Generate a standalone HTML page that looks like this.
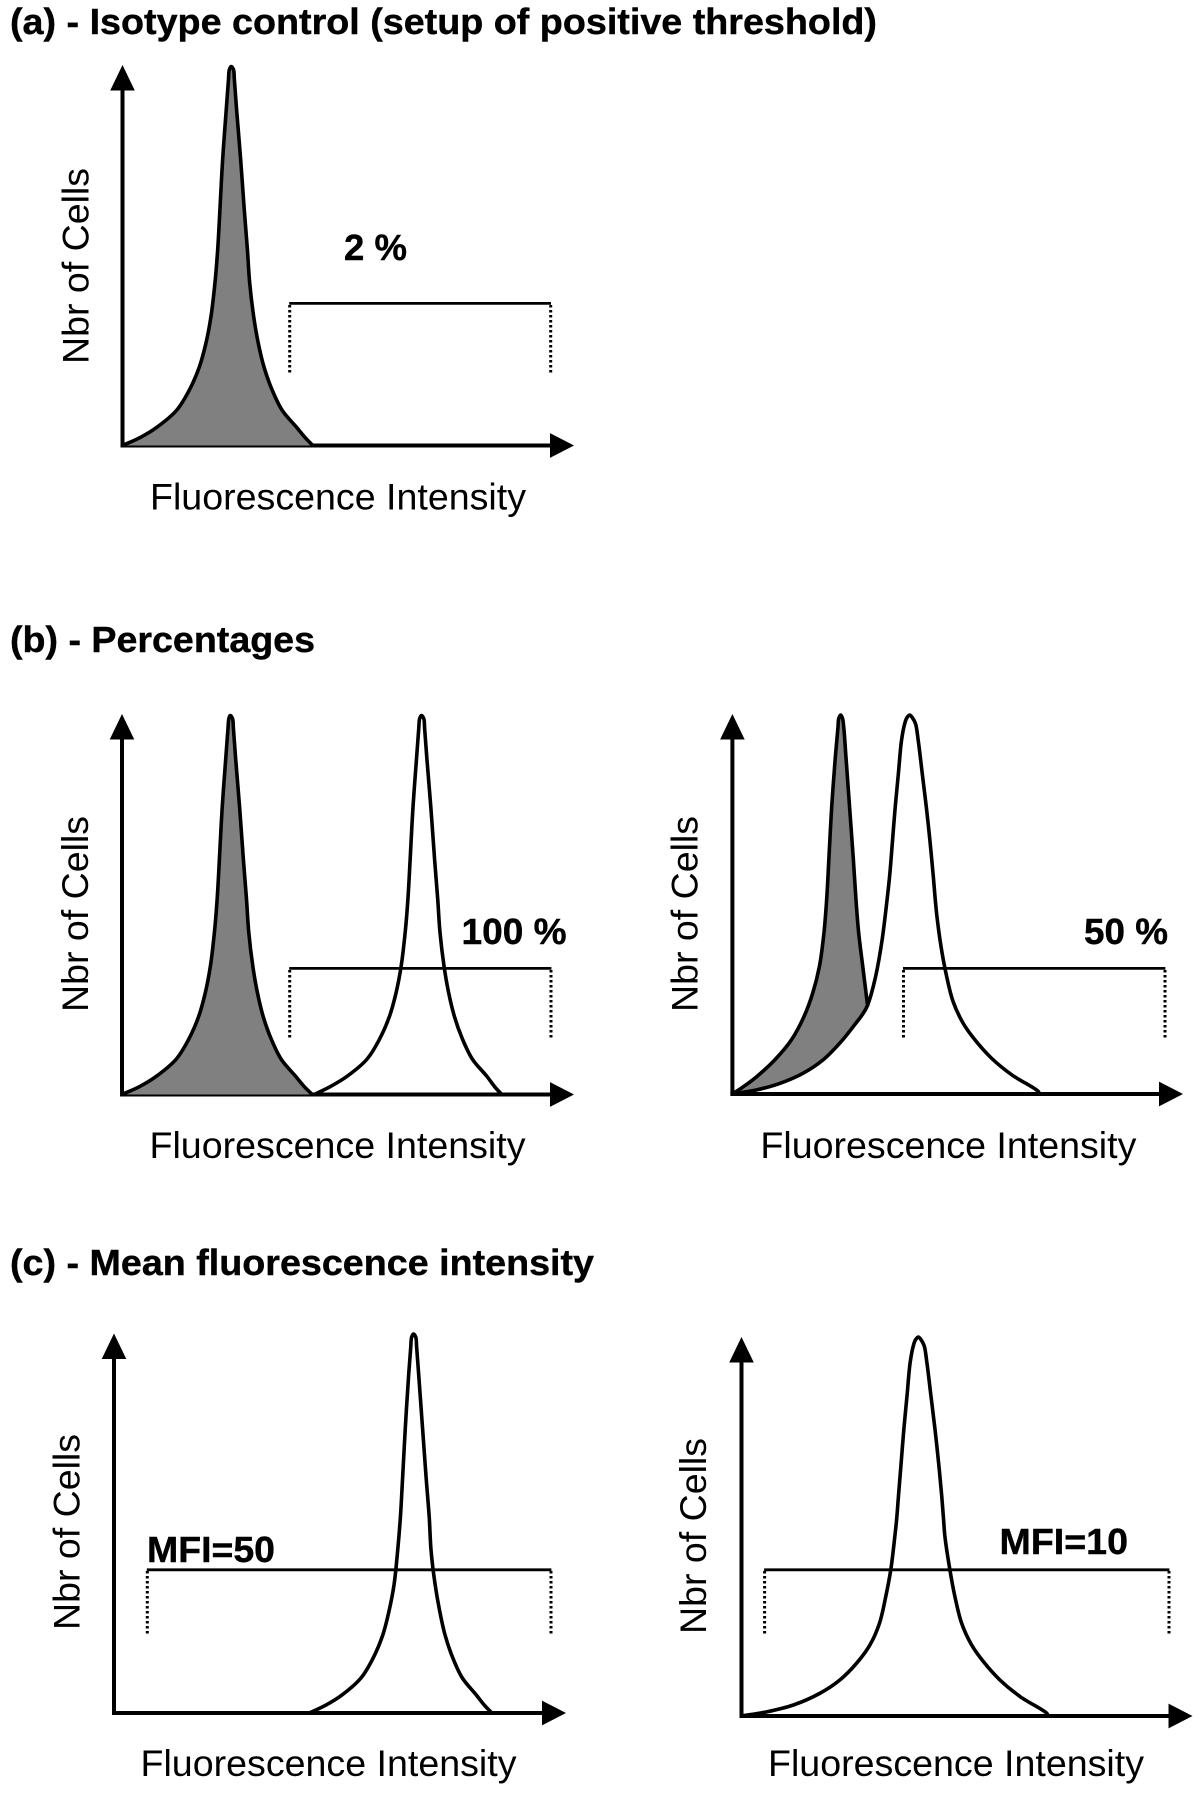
<!DOCTYPE html>
<html lang="en">
<head>
<meta charset="utf-8">
<title>Flow cytometry schematic</title>
<style>
html,body{margin:0;padding:0;background:#fff;width:1200px;height:1795px;overflow:hidden}
svg{display:block}
text{font-family:"Liberation Sans",Arial,sans-serif;fill:#000}
.t{font-weight:bold;font-size:36px;stroke:#000;stroke-width:.4px}
.v{font-weight:bold;font-size:36px;stroke:#000;stroke-width:.4px}
.l{font-size:37.5px}
.axis{stroke:#000;stroke-width:4;fill:none}
.gate{stroke:#000;stroke-width:2.8;fill:none}
.dot{stroke:#000;stroke-width:3;stroke-dasharray:2.5 2.5;fill:none}
</style>
</head>
<body>
<svg id="chart" xmlns="http://www.w3.org/2000/svg" width="1200" height="1795" viewBox="0 0 1200 1795">
  <rect width="1200" height="1795" fill="#fff"/>

  <text class="t" x="10" y="34" textLength="867" lengthAdjust="spacingAndGlyphs">(a) - Isotype control (setup of positive threshold)</text>
  <text class="t" x="10" y="652" textLength="305" lengthAdjust="spacingAndGlyphs">(b) - Percentages</text>
  <text class="t" x="10" y="1275" textLength="584" lengthAdjust="spacingAndGlyphs">(c) - Mean fluorescence intensity</text>

  <!-- Panel A -->
  <g>
    <line class="axis" x1="122.5" y1="447.5" x2="122.5" y2="85"/>
    <polygon points="122.5,65 110.2,90.5 134.8,90.5"/>
    <line class="axis" x1="120.5" y1="445.5" x2="555" y2="445.5"/>
    <polygon points="574,445.5 550,433.1 550,457.9"/>
  </g>
  <g id="panel-a-curves"></g>
  <g>
    <line class="gate" x1="289.2" y1="303.4" x2="551" y2="303.4"/>
    <line class="dot" x1="289.7" y1="305" x2="289.7" y2="374"/>
    <line class="dot" x1="550.7" y1="305" x2="550.7" y2="374"/>
  </g>
  <text class="v" x="344" y="260" textLength="63" lengthAdjust="spacingAndGlyphs">2 %</text>
  <text class="l" x="150" y="509.5" textLength="376" lengthAdjust="spacingAndGlyphs">Fluorescence Intensity</text>
  <text class="l" transform="translate(88.3,364) rotate(-90)" textLength="196" lengthAdjust="spacingAndGlyphs">Nbr of Cells</text>

  <!-- Panel B left -->
  <g>
    <line class="axis" x1="122" y1="1096.5" x2="122" y2="735"/>
    <polygon points="122,714 109.7,739.5 134.3,739.5"/>
    <line class="axis" x1="120" y1="1094.5" x2="555" y2="1094.5"/>
    <polygon points="574,1094.5 550,1082.1 550,1106.9"/>
  </g>
  <g id="panel-b1-curves"></g>
  <g>
    <line class="gate" x1="289.2" y1="968.4" x2="551.4" y2="968.4"/>
    <line class="dot" x1="289.7" y1="970" x2="289.7" y2="1040"/>
    <line class="dot" x1="551" y1="970" x2="551" y2="1040"/>
  </g>
  <text class="v" x="461.5" y="944" textLength="105" lengthAdjust="spacingAndGlyphs">100 %</text>
  <text class="l" x="149.5" y="1158" textLength="376" lengthAdjust="spacingAndGlyphs">Fluorescence Intensity</text>
  <text class="l" transform="translate(87.8,1012) rotate(-90)" textLength="196" lengthAdjust="spacingAndGlyphs">Nbr of Cells</text>

  <!-- Panel B right -->
  <g>
    <line class="axis" x1="732.4" y1="1096" x2="732.4" y2="735"/>
    <polygon points="732.4,714 720.1,739.5 744.7,739.5"/>
    <line class="axis" x1="730.4" y1="1094" x2="1165" y2="1094"/>
    <polygon points="1183,1094 1159,1081.6 1159,1106.4"/>
  </g>
  <g id="panel-b2-curves"></g>
  <g>
    <line class="gate" x1="903" y1="968.4" x2="1165.4" y2="968.4"/>
    <line class="dot" x1="903.5" y1="970" x2="903.5" y2="1040"/>
    <line class="dot" x1="1165" y1="970" x2="1165" y2="1040"/>
  </g>
  <text class="v" x="1084" y="944" textLength="84" lengthAdjust="spacingAndGlyphs">50 %</text>
  <text class="l" x="760.4" y="1158" textLength="376" lengthAdjust="spacingAndGlyphs">Fluorescence Intensity</text>
  <text class="l" transform="translate(697.4,1012) rotate(-90)" textLength="196" lengthAdjust="spacingAndGlyphs">Nbr of Cells</text>

  <!-- Panel C left -->
  <g>
    <line class="axis" x1="114" y1="1715" x2="114" y2="1355"/>
    <polygon points="114,1333.5 101.7,1359 126.3,1359"/>
    <line class="axis" x1="112" y1="1713" x2="546" y2="1713"/>
    <polygon points="566,1713 542,1700.6 542,1725.4"/>
  </g>
  <g id="panel-c1-curves"></g>
  <g>
    <line class="gate" x1="146.8" y1="1569.8" x2="551.4" y2="1569.8"/>
    <line class="dot" x1="147.3" y1="1571" x2="147.3" y2="1635"/>
    <line class="dot" x1="551" y1="1571" x2="551" y2="1635"/>
  </g>
  <text class="v" x="147" y="1562" textLength="128" lengthAdjust="spacingAndGlyphs">MFI=50</text>
  <text class="l" x="140.5" y="1776" textLength="376" lengthAdjust="spacingAndGlyphs">Fluorescence Intensity</text>
  <text class="l" transform="translate(79.4,1630) rotate(-90)" textLength="196" lengthAdjust="spacingAndGlyphs">Nbr of Cells</text>

  <!-- Panel C right -->
  <g>
    <line class="axis" x1="741.5" y1="1718" x2="741.5" y2="1358"/>
    <polygon points="741.5,1337 729.2,1362.5 753.8,1362.5"/>
    <line class="axis" x1="739.5" y1="1716" x2="1174" y2="1716"/>
    <polygon points="1192.5,1716 1168.5,1703.6 1168.5,1728.4"/>
  </g>
  <g id="panel-c2-curves"></g>
  <g>
    <line class="gate" x1="764.1" y1="1569.8" x2="1169.4" y2="1569.8"/>
    <line class="dot" x1="764.6" y1="1571" x2="764.6" y2="1635"/>
    <line class="dot" x1="1169" y1="1571" x2="1169" y2="1635"/>
  </g>
  <text class="v" x="999.5" y="1554" textLength="128.5" lengthAdjust="spacingAndGlyphs">MFI=10</text>
  <text class="l" x="768" y="1776" textLength="376" lengthAdjust="spacingAndGlyphs">Fluorescence Intensity</text>
  <text class="l" transform="translate(706,1634) rotate(-90)" textLength="196" lengthAdjust="spacingAndGlyphs">Nbr of Cells</text>
</svg>

<script>
// Intensity (0-100 of axis length) and cell count (0-100 of peak)
const isotypeIntensity = [0,3.9,7.6,12,14.8,17,18.5,19.6,20.5,21.1,21.6,22.2,23,23.5,23.7,24.1,24.6,24.8,25.3,26.2,27,27.7,28.2,29.1,30.1,31.4,33.2,35.4,38.6,40.5,42.2];
const isotypeCount = [0,2.1,4.8,9.3,14.6,20.6,27,33.9,42.9,51.6,62.2,75.4,88.6,96.6,99.2,100,99.2,96.6,88.6,75.4,62.2,51.6,42.9,33.9,27,20.6,14.6,9.3,4.8,2.1,0];

const controlLeftIntensity = [0,3.9,7.6,12,14.8,17,18.5,19.6,20.5,21.1,21.6,22.2,23,23.5,23.7,24,24.5,24.7,25.2,26.1,26.9,27.6,28.1,29,30,31.3,33.1,35.3,38.5,40.4,42.2];
const controlLeftCount = [0,2.1,4.8,9.3,14.6,20.6,27,33.9,42.9,51.6,62.2,75.4,88.6,96.6,99.2,100,99.2,96.6,88.6,75.4,62.2,51.6,42.9,33.9,27,20.6,14.6,9.3,4.8,2.1,0];
const sampleLeftIntensity = [42.6,46.2,49.9,54.3,57.1,59.3,60.8,61.9,62.8,63.4,63.9,64.5,65.3,65.8,66,66.4,66.9,67.1,67.6,68.5,69.3,70,70.5,71.4,72.4,73.7,75.5,77.7,80.9,82.6,84.2];
const sampleLeftCount = [0,2.1,4.8,9.3,14.6,20.6,27,33.9,42.9,51.6,62.2,75.4,88.6,96.6,99.2,100,99.2,96.6,88.6,75.4,62.2,51.6,42.9,33.9,27,20.6,14.6,9.3,4.8,2.1,0];

const controlRightIntensity = [0,2.4,5.4,9.4,13.1,15.9,17.8,19.3,20.3,20.9,21.4,22,22.8,23.4,23.6,24,24.4,24.7,25.2,26,26.8,27.4,28,28.9,30];
const controlRightCount = [0,1.9,4.6,9,14.3,20.5,26.6,33.7,42.5,51.3,62.2,75.4,88.6,96.6,99.2,100,99.2,96.6,88.6,75.4,62.2,51.3,42.5,33.7,23.1];
const sampleRightIntensity = [0,5.4,10.5,15.7,20.1,23.8,26.8,29.7,31.6,33.1,34.3,34.9,35.5,36.1,36.8,37.5,38.2,38.7,39.3,39.9,40.6,41.2,42.1,43,43.8,44.5,45.3,46.3,47.4,48.9,51.1,53.7,57.4,61.9,67.8,68.1];
const sampleRightCount = [0,1.1,2.8,5.5,9,13.4,17.8,22.7,30.2,39.9,51.3,58,66.8,75.7,84.5,93.3,97.7,99.3,100,99.3,97.7,93.3,84.5,75.7,66.8,58,47.4,38.6,31.6,24.5,18.8,14.4,9.5,5.1,0.7,0];

const mfi50Intensity = [43.3,47,50.6,54.8,57.5,59.6,61,62.1,62.9,63.5,64,64.6,65.3,65.8,66,66.4,66.9,67.1,67.6,68.4,69.2,69.9,70.3,71.2,72.2,73.4,75.1,77.2,80.3,82.1,83.8];
const mfi50Count = [0,2.1,4.8,9.3,14.6,20.6,27,33.9,42.9,51.6,62.2,75.4,88.6,96.6,99.2,100,99.2,96.6,88.6,75.4,62.2,51.6,42.9,33.9,27,20.6,14.6,9.3,4.8,2.1,0];

const mfi10Intensity = [0,5.6,11.5,17.4,21.8,25.5,28.5,30.6,32,33.1,34,34.4,34.8,35.4,36,36.7,37.4,38.1,38.6,39.2,39.8,40.5,41.1,42,42.9,43.7,44.4,44.8,45.1,46.2,47.3,48.8,51,53.6,57.3,61.8,67.7,68];
const mfi10Count = [0,1.1,2.9,6,9.5,13.9,18.8,24.5,31.6,38.6,47.4,51.9,58,66.8,75.7,84.5,93.3,97.7,99.3,100,99.3,97.7,93.3,84.5,75.7,66.8,58,51.9,47.4,38.6,31.6,24.5,18.8,14.4,9.5,5.1,0.7,0];

const SVG_NS = 'http://www.w3.org/2000/svg';
const PLOT_W = 4.51, PLOT_H = 3.79, LINE_W = 3.6;

function xAxis(originX, v) { return originX + v * PLOT_W; }
function yAxis(originY, v) { return originY - v * PLOT_H; }

function toPoints(originX, originY, xs, ys) {
  return xs.map(function (v, i) { return [xAxis(originX, v), yAxis(originY, ys[i])]; });
}

// Centripetal Catmull-Rom spline through the points, written as cubic Beziers
function knot(a, b) {
  return Math.max(Math.sqrt(Math.hypot(b[0] - a[0], b[1] - a[1])), 1e-3);
}
function tangent(a, b, c, dab, dbc, k) {
  return (b[k] - a[k]) / dab - (c[k] - a[k]) / (dab + dbc) + (c[k] - b[k]) / dbc;
}
function smoothPath(pts) {
  let d = 'M' + pts[0][0].toFixed(2) + ' ' + pts[0][1].toFixed(2);
  for (let i = 0; i < pts.length - 1; i++) {
    const p1 = pts[i], p2 = pts[i + 1];
    const d12 = knot(p1, p2);
    let m1 = [(p2[0] - p1[0]) / d12, (p2[1] - p1[1]) / d12];
    let m2 = [m1[0], m1[1]];
    if (i > 0) {
      const p0 = pts[i - 1], d01 = knot(p0, p1);
      m1 = [tangent(p0, p1, p2, d01, d12, 0), tangent(p0, p1, p2, d01, d12, 1)];
    }
    if (i + 2 < pts.length) {
      const p3 = pts[i + 2], d23 = knot(p2, p3);
      m2 = [tangent(p1, p2, p3, d12, d23, 0), tangent(p1, p2, p3, d12, d23, 1)];
    }
    const c1x = p1[0] + m1[0] * d12 / 3, c1y = p1[1] + m1[1] * d12 / 3;
    const c2x = p2[0] - m2[0] * d12 / 3, c2y = p2[1] - m2[1] * d12 / 3;
    d += 'C' + c1x.toFixed(2) + ' ' + c1y.toFixed(2) + ' ' + c2x.toFixed(2) + ' ' + c2y.toFixed(2) + ' ' + p2[0].toFixed(2) + ' ' + p2[1].toFixed(2);
  }
  return d;
}

function addPath(parentId, d, fill, strokeWidth) {
  const el = document.createElementNS(SVG_NS, 'path');
  el.setAttribute('d', d);
  el.setAttribute('fill', fill);
  el.setAttribute('stroke', strokeWidth ? '#000' : 'none');
  if (strokeWidth) el.setAttribute('stroke-width', strokeWidth);
  el.setAttribute('stroke-linejoin', 'round');
  document.getElementById(parentId).appendChild(el);
  return el;
}

let el;

// Panel A
let pts = toPoints(122.5, 445.5, isotypeIntensity, isotypeCount);
el = addPath('panel-a-curves', smoothPath(pts) + 'Z', '#808080', 0);


el = addPath('panel-a-curves', smoothPath(pts), 'none', LINE_W);



// Panel B left
pts = toPoints(122, 1094.5, controlLeftIntensity, controlLeftCount);
el = addPath('panel-b1-curves', smoothPath(pts) + 'Z', '#808080', 0);


el = addPath('panel-b1-curves', smoothPath(pts), 'none', LINE_W);


pts = toPoints(122, 1094.5, sampleLeftIntensity, sampleLeftCount);
el = addPath('panel-b1-curves', smoothPath(pts), 'none', LINE_W);



// Panel B right: grey area lies between the control curve and the sample curve
const ctrlPts = toPoints(732.4, 1094, controlRightIntensity, controlRightCount);
const samplePts = toPoints(732.4, 1094, sampleRightIntensity, sampleRightCount);
const endX = ctrlPts[ctrlPts.length - 1][0];
const lowerPts = samplePts.filter(function (p) { return p[0] <= endX; }).reverse();
el = addPath('panel-b2-curves', smoothPath(ctrlPts) + smoothPath(lowerPts).replace('M', 'L') + 'Z', '#808080', 0);


el = addPath('panel-b2-curves', smoothPath(ctrlPts), 'none', LINE_W);


el = addPath('panel-b2-curves', smoothPath(samplePts), 'none', LINE_W);



// Panel C
pts = toPoints(114, 1713, mfi50Intensity, mfi50Count);
el = addPath('panel-c1-curves', smoothPath(pts), 'none', LINE_W);


pts = toPoints(741.5, 1716, mfi10Intensity, mfi10Count);
el = addPath('panel-c2-curves', smoothPath(pts), 'none', LINE_W);


</script>
</body>
</html>
